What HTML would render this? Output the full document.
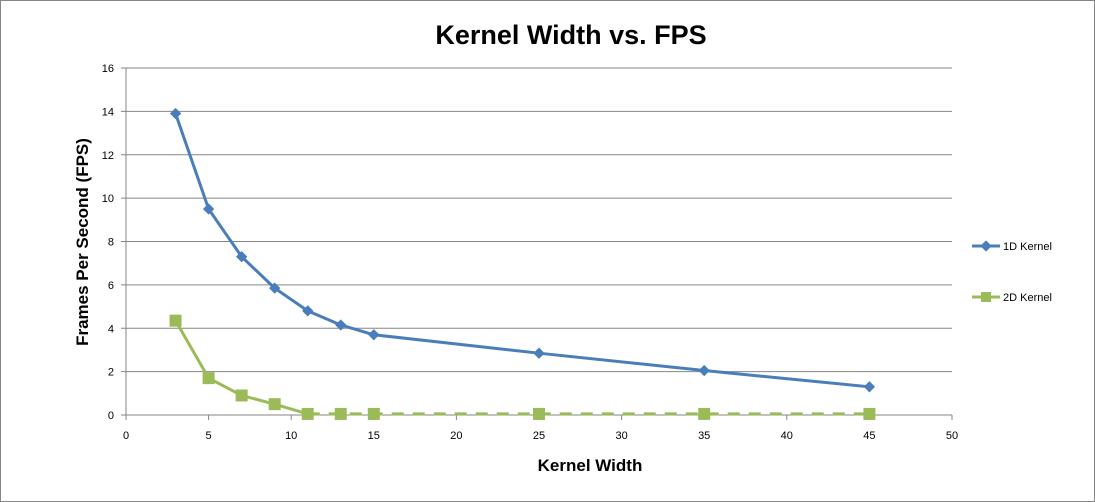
<!DOCTYPE html>
<html><head><meta charset="utf-8">
<style>
html,body{margin:0;padding:0;background:#fff;}
svg{display:block;font-family:"Liberation Sans",sans-serif;}
</style></head>
<body>
<svg id="chart" width="1095" height="502">
<rect x="0.5" y="0.5" width="1094" height="501" fill="#fff" stroke="#868686"/>
<text x="571" y="44" text-anchor="middle" font-size="27" font-weight="bold" fill="#000">Kernel Width vs. FPS</text>
<text x="590" y="471" text-anchor="middle" font-size="17" font-weight="bold" fill="#000">Kernel Width</text>
<text transform="translate(88,242) rotate(-90)" text-anchor="middle" font-size="17" font-weight="bold" fill="#000">Frames Per Second (FPS)</text>
<g id="grid"></g><g id="axes"></g><g id="series"></g>
<g>
<g>
<line x1="972" y1="246" x2="1000" y2="246" stroke="#4a7ebb" stroke-width="3"/>
<rect x="982" y="242" width="8" height="8" fill="#4a7ebb" transform="rotate(45 986 246)"/>
<text x="1003" y="250" font-size="11" fill="#000">1D Kernel</text></g>
<g>
<line x1="972" y1="297" x2="1000" y2="297" stroke="#9bbb59" stroke-width="3"/>
<rect x="981" y="292" width="10" height="10" fill="#9bbb59"/>
<text x="1003" y="301" font-size="11" fill="#000">2D Kernel</text></g>
</g>
</svg>
<script>
const xValues=[3,5,7,9,11,13,15,25,35,45];
const series1D=[13.9,9.5,7.3,5.85,4.8,4.15,3.7,2.85,2.05,1.3];
const series2D=[4.35,1.7,0.9,0.5,0.05,0.05,0.05,0.05,0.05,0.05];
const xTicks=[0,5,10,15,20,25,30,35,40,45,50];
const yTicks=[0,2,4,6,8,10,12,14,16];
const NS="http://www.w3.org/2000/svg";
const X=v=>126+v*(952-126)/50, Y=v=>415-v*(415-68)/16;
function mk(t,a,p){const e=document.createElementNS(NS,t);for(const k in a)e.setAttribute(k,a[k]);p.appendChild(e);return e;}
const grid=document.getElementById('grid'),axes=document.getElementById('axes'),ser=document.getElementById('series');
yTicks.forEach(v=>{
 if(v>0){const l=mk('line',{x1:126,x2:952,y1:Y(v),y2:Y(v),stroke:'#868686','stroke-width':1},grid);
 
 }
 const t=mk('text',{x:114,y:Y(v)+4,'text-anchor':'end','font-size':11,fill:'#000'},axes);t.textContent=v;
 
 
 mk('line',{x1:121,x2:126,y1:Y(v),y2:Y(v),stroke:'#868686'},axes);
});
xTicks.forEach(v=>{
 const t=mk('text',{x:X(v),y:439,'text-anchor':'middle','font-size':11,fill:'#000'},axes);t.textContent=v;
 
 
 mk('line',{x1:X(v),x2:X(v),y1:415,y2:420,stroke:'#868686'},axes);
});
mk('line',{x1:126,x2:126,y1:68,y2:415,stroke:'#868686'},axes);
mk('line',{x1:126,x2:952,y1:415,y2:415,stroke:'#868686'},axes);
// 1D
const p1=xValues.map((x,i)=>X(x)+','+Y(series1D[i])).join(' ');
const l1=mk('polyline',{points:p1,fill:'none',stroke:'#4a7ebb','stroke-width':3,'stroke-linejoin':'round'},ser);


xValues.forEach((x,i)=>{const cx=X(x),cy=Y(series1D[i]);
 const m=mk('rect',{x:cx-4,y:cy-4,width:8,height:8,fill:'#4a7ebb',transform:`rotate(45 ${cx} ${cy})`},ser);
 
 });
// 2D: solid until 11, dashed after
const solid=[],dashed=[];
xValues.forEach((x,i)=>{const p=X(x)+','+Y(series2D[i]);if(x<=11)solid.push(p);if(x>=11)dashed.push(p);});
const l2=mk('polyline',{points:solid.join(' '),fill:'none',stroke:'#9bbb59','stroke-width':3,'stroke-linejoin':'round'},ser);


const l3=mk('polyline',{points:dashed.join(' '),fill:'none',stroke:'#9bbb59','stroke-width':3,'stroke-dasharray':'12,9'},ser);


xValues.forEach((x,i)=>{const cx=X(x),cy=Y(series2D[i]);
 const m=mk('rect',{x:cx-6,y:cy-6,width:12,height:12,fill:'#9bbb59'},ser);
 
 });
</script>
</body></html>
